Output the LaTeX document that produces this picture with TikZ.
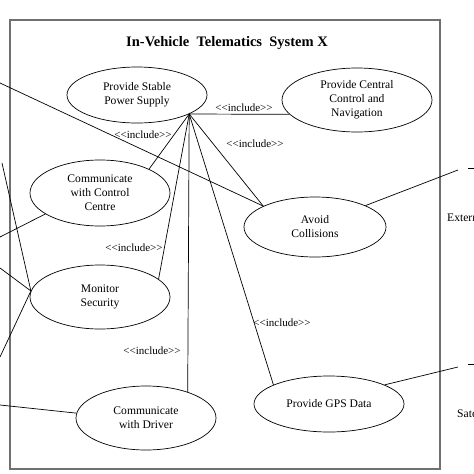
\documentclass[tikz,border=0pt]{standalone}
\usepackage{fontspec}
\setmainfont{Liberation Serif}
\usetikzlibrary{shapes}
\definecolor{sysgrau}{HTML}{707070}

\begin{document}
\begin{tikzpicture}[x=1pt,y=-1pt,every edge/.style={draw=black,line width=0.7pt},
    uc/.style={draw, ellipse, line width=0.7pt, inner sep=0pt, align=center, font=\fontsize{11.6}{14}\selectfont},
    incl/.style={inner sep=0pt, font=\fontsize{11}{13}\selectfont}]
        \useasboundingbox (0,0) rectangle (474,474);
        \clip (0,0) rectangle (474,474);

        \draw[sysgrau, line width=1.6pt] (10,20) rectangle (440,469);
        \node[font=\fontsize{14.5}{17}\selectfont\bfseries] (T) at (227,43) {In-Vehicle\ \ Telematics\ \ System X};

        \node[uc, minimum width=140pt, minimum height=56pt] (P) at (137,95) {Provide Stable\\Power Supply};

        \node[uc, minimum width=150pt, minimum height=64pt] (N) at (357,100) {Provide Central\\Control and\\Navigation};

        \node[uc, minimum width=140pt, minimum height=66pt] (C) at (100,193) {Communicate\\with Control\\Centre};

        \node[uc, minimum width=142pt, minimum height=60pt] (A) at (315,227) {Avoid\\Collisions};

        \node[uc, minimum width=140pt, minimum height=64pt] (M) at (100,297) {Monitor\\Security};

        \node[uc, minimum width=140pt, minimum height=64pt] (D) at (146,418) {Communicate\\with Driver};

        \node[uc, minimum width=150pt, minimum height=56pt] (G) at (329,404) {Provide GPS Data};

        \coordinate (H) at (P.-20);

        \node[incl] (I1) at (244,108) {<{}<include>{}>};
        \node[incl] (I2) at (143,135) {<{}<include>{}>};
        \node[incl] (I3) at (255,144) {<{}<include>{}>};
        \node[incl] (I4) at (134,248) {<{}<include>{}>};
        \node[incl] (I5) at (152,351) {<{}<include>{}>};
        \node[incl] (I6) at (282,323) {<{}<include>{}>};

        \path (H) edge (N.192);
        \path (H) edge (C.26);
        \path (H) edge (A.158);
        \path (H) edge (M.17);
        \path (H) edge (D.32);
        \path (H) edge (G.161);

        % actors outside the picture
        \coordinate (L1) at (0,83);
        \coordinate (L2) at (2,163);
        \coordinate (L3) at (0,237);
        \coordinate (L4) at (0,268);
        \coordinate (L5) at (0,357);
        \coordinate (L6) at (0,405);
        \coordinate (R1) at (458,170);
        \coordinate (R2) at (458,367);

        \path (L1) edge (A.158);
        \path (L2) edge (M.175);
        \path (L3) edge (C.201);
        \path (L4) edge (M.175);
        \path (L5) edge (M.175);
        \path (L6) edge (D.176);
        \path (A.23) edge (R1);
        \path (G.19) edge (R2);

        \draw[line width=0.7pt] (468,168) -- (474,168);
        \draw[line width=0.7pt] (468,364) -- (474,364);
        \node[anchor=west, inner sep=0pt, font=\fontsize{11.6}{13}\selectfont] (EXT) at (447,218) {External};
        \node[anchor=west, inner sep=0pt, font=\fontsize{11.6}{13}\selectfont] (SAT) at (457,414) {Satellite};

    \end{tikzpicture}
\end{document}
